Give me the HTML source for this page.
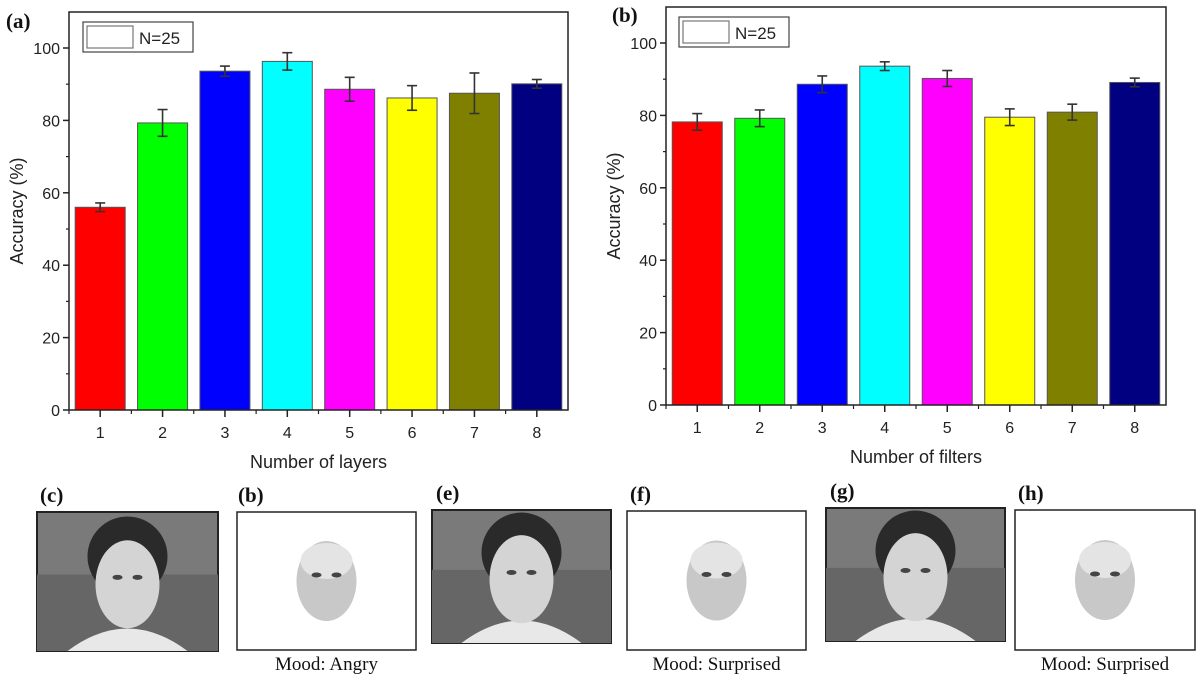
<!DOCTYPE html>
<html><head><meta charset="utf-8">
<style>
body{margin:0;background:#fff;width:1200px;height:681px;overflow:hidden;font-family:"Liberation Sans",sans-serif;}
svg{position:absolute;left:0;top:0}
.serif{font-family:"Liberation Serif",serif}
</style></head>
<body>
<svg id="fig" width="1200" height="681" viewBox="0 0 1200 681">
</svg>
<script>
const categories=["1","2","3","4","5","6","7","8"];
const colors=["#ff0000","#00ff00","#0000ff","#00ffff","#ff00ff","#ffff00","#808000","#000080"];
const layersValues=[56.0,79.3,93.6,96.3,88.6,86.2,87.5,90.1];
const layersErrors=[1.2,3.7,1.4,2.4,3.3,3.4,5.6,1.2];
const filtersValues=[78.2,79.2,88.6,93.6,90.2,79.5,80.9,89.1];
const filtersErrors=[2.3,2.3,2.3,1.2,2.2,2.3,2.2,1.2];
const yTicks=[0,20,40,60,80,100];

const NS="http://www.w3.org/2000/svg";
const svg=document.getElementById('fig');
function mk(tag,attrs,parent,text){const e=document.createElementNS(NS,tag);for(const k in attrs)e.setAttribute(k,attrs[k]);if(text!==undefined)e.textContent=text;(parent||svg).appendChild(e);return e;}

function chart(cfg){
  const g=mk('g',{});
  
  
  const {L,R,T,B,y100}=cfg;
  const yS=v=>B-(B-y100)*v/100;
  const step=(R-L)/categories.length;
  const xS=i=>L+(i+0.5)*step;
  cfg.values.forEach((v,i)=>{
    const r=mk('rect',{x:xS(i)-25,y:yS(v),width:50,height:B-yS(v),fill:colors[i],stroke:'#555','stroke-width':1},g);
    
    
    const e=cfg.errors[i];
    const eg=mk('g',{stroke:'#333','stroke-width':1.6},g);
    
    
    mk('line',{x1:xS(i),x2:xS(i),y1:yS(v+e),y2:yS(v-e)},eg);
    mk('line',{x1:xS(i)-5,x2:xS(i)+5,y1:yS(v+e),y2:yS(v+e)},eg);
    mk('line',{x1:xS(i)-5,x2:xS(i)+5,y1:yS(v-e),y2:yS(v-e)},eg);
  });
  const fr=mk('rect',{x:L,y:T,width:R-L,height:B-T,fill:'none',stroke:'#222','stroke-width':1.5},g);
  
  
  yTicks.forEach(t=>{
    mk('line',{x1:L-6,x2:L,y1:yS(t),y2:yS(t),stroke:'#222','stroke-width':1.5},g);
    const tl=mk('text',{x:L-9,y:yS(t)+6,'text-anchor':'end','font-size':16,fill:'#222'},g,String(t));
    
    
    if(t<100) mk('line',{x1:L-3,x2:L,y1:yS(t+10),y2:yS(t+10),stroke:'#222','stroke-width':1.2},g);
  });
  categories.forEach((c,i)=>{
    mk('line',{x1:xS(i),x2:xS(i),y1:B,y2:B+7,stroke:'#222','stroke-width':1.5},g);
    mk('line',{x1:L+i*step,x2:L+i*step,y1:B,y2:B+4,stroke:'#222','stroke-width':1.2},g);
    const xl=mk('text',{x:xS(i),y:B+28,'text-anchor':'middle','font-size':16,fill:'#222'},g,c);
    
    
  });
  const xt=mk('text',{x:(L+R)/2,y:B+58,'text-anchor':'middle','font-size':18,fill:'#222'},g,cfg.xTitle);
  
  
  const yt=mk('text',{x:0,y:0,'text-anchor':'middle','font-size':18,fill:'#222',transform:`translate(${L-46},${(T+B)/2}) rotate(-90)`},g,'Accuracy (%)');
  
  
  const lg=mk('g',{},g);
  
  
  mk('rect',{x:cfg.lx,y:cfg.ly,width:110,height:30,fill:'#fff',stroke:'#444','stroke-width':1.2},lg);
  mk('rect',{x:cfg.lx+4,y:cfg.ly+4,width:46,height:22,fill:'#fff',stroke:'#777','stroke-width':1.2},lg);
  mk('text',{x:cfg.lx+56,y:cfg.ly+22,'font-size':17,fill:'#222'},lg,'N=25');
  const pl=mk('text',{x:cfg.px,y:cfg.py,'font-size':21,'font-weight':'bold',class:'serif',fill:'#111'},g,cfg.panel);
  
  
}
chart({name:'chart-layers',L:69,R:568,T:12,B:410,y100:48,values:layersValues,errors:layersErrors,xTitle:'Number of layers',lx:83,ly:22,panel:'(a)',px:6,py:28});
chart({name:'chart-filters',L:666,R:1166,T:7,B:405,y100:43,values:filtersValues,errors:filtersErrors,xTitle:'Number of filters',lx:679,ly:17,panel:'(b)',px:612,py:22});

const photos=[
 {l:'(c)',x:37,y:512,w:181,h:139,bg:true,lx:40},
 {l:'(b)',x:237,y:512,w:179,h:138,bg:false,lx:238,cap:'Mood: Angry'},
 {l:'(e)',x:432,y:510,w:179,h:133,bg:true,lx:436},
 {l:'(f)',x:627,y:511,w:179,h:139,bg:false,lx:630,cap:'Mood: Surprised'},
 {l:'(g)',x:826,y:508,w:179,h:133,bg:true,lx:830},
 {l:'(h)',x:1015,y:510,w:180,h:140,bg:false,lx:1018,cap:'Mood: Surprised'}
];
photos.forEach((p,i)=>{
  const g=mk('g',{});
  
  
  mk('text',{x:p.lx,y:p.y-10,'font-size':21,'font-weight':'bold',class:'serif',fill:'#111'},g,p.l);
  const cx=p.x+p.w/2, cy=p.y+p.h/2;
  if(p.bg){
    mk('rect',{x:p.x,y:p.y,width:p.w,height:p.h,fill:'#7a7a7a',stroke:'#222','stroke-width':2},g);
    mk('rect',{x:p.x,y:p.y+p.h*0.45,width:p.w,height:p.h*0.55,fill:'#666'},g);
    mk('ellipse',{cx:cx,cy:p.y+p.h*0.32,rx:40,ry:40,fill:'#2a2a2a'},g);
    mk('path',{d:`M${cx-60} ${p.y+p.h} Q${cx} ${p.y+p.h-45} ${cx+60} ${p.y+p.h} Z`,fill:'#e8e8e8'},g);
    mk('ellipse',{cx:cx,cy:p.y+p.h*0.52,rx:32,ry:44,fill:'#d4d4d4'},g);
  } else {
    mk('rect',{x:p.x,y:p.y,width:p.w,height:p.h,fill:'#fff',stroke:'#222','stroke-width':1.5},g);
    mk('ellipse',{cx:cx,cy:cy,rx:30,ry:40,fill:'#c8c8c8'},g);
    mk('ellipse',{cx:cx,cy:cy-20,rx:26,ry:18,fill:'#e4e4e4'},g);
  }
  mk('ellipse',{cx:cx-10,cy:(p.bg?p.y+p.h*0.47:cy-6),rx:5,ry:2.5,fill:'#444'},g);
  mk('ellipse',{cx:cx+10,cy:(p.bg?p.y+p.h*0.47:cy-6),rx:5,ry:2.5,fill:'#444'},g);
  if(p.cap){
    const c=mk('text',{x:cx,y:p.y+p.h+20,'text-anchor':'middle','font-size':19,class:'serif',fill:'#111'},g,p.cap);
    
    
  }
});
</script>
</body></html>
